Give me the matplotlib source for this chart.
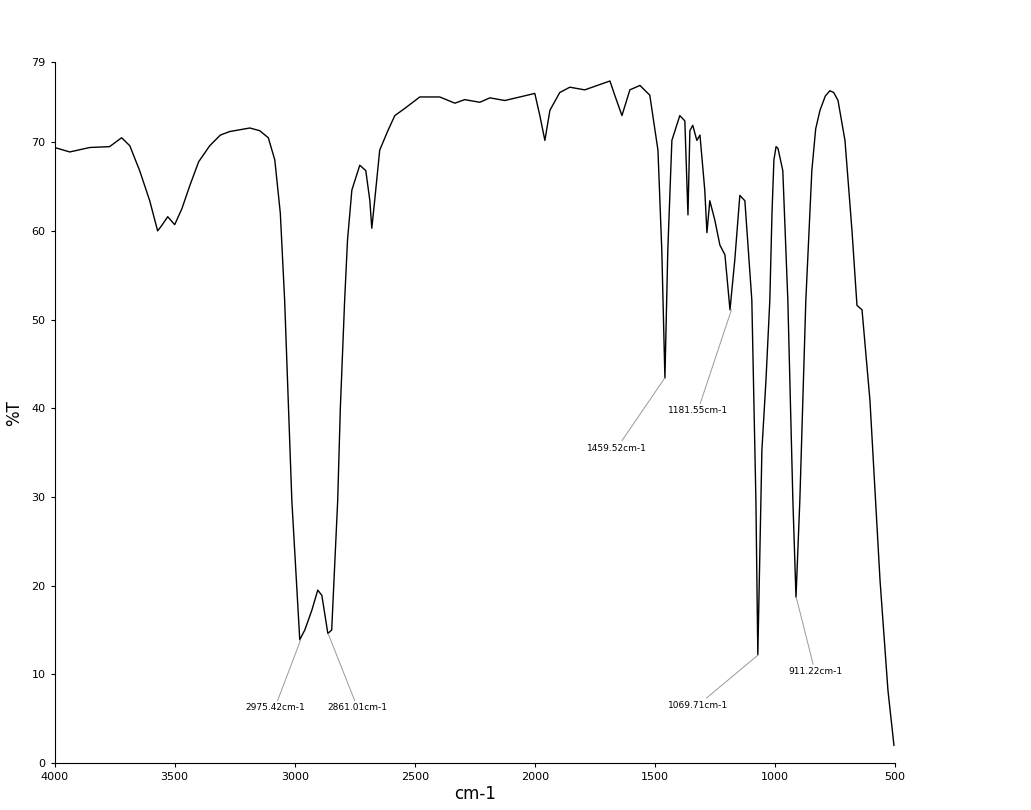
import matplotlib
matplotlib.use("Agg")
import matplotlib.pyplot as plt

# IR spectrum, traced by eye
wavenumber = [4000, 3937, 3854, 3771, 3721, 3687, 3646, 3604, 3571, 3554, 3529, 3500, 3470, 3437, 3400,
              3354, 3310, 3271, 3187, 3146, 3110, 3083, 3060, 3042, 3012, 2979, 2958, 2929, 2904,
              2887, 2862, 2846, 2821, 2810, 2792, 2780, 2762, 2729, 2704, 2687, 2679, 2667, 2646,
              2612, 2583, 2542, 2479, 2396, 2333, 2292, 2229, 2187, 2125, 2062, 2000, 1979, 1958,
              1937, 1896, 1854, 1792, 1729, 1687, 1667, 1637, 1604, 1562, 1521, 1487, 1471, 1458,
              1446, 1429, 1396, 1375, 1362, 1354, 1342, 1325, 1312, 1292, 1283, 1271, 1250, 1229,
              1208, 1187, 1167, 1146, 1125, 1096, 1079, 1071, 1054, 1037, 1021, 1012, 1004, 995, 987,
              967, 946, 925, 912, 896, 871, 846, 830, 812, 790, 771, 755, 737, 708, 679, 658, 637,
              604, 562, 529, 504]
transmittance = [69.4, 68.9, 69.4, 69.5, 70.5, 69.6, 66.8, 63.4, 60.0, 60.6, 61.6, 60.7, 62.5, 65.1, 67.8,
                 69.6, 70.8, 71.2, 71.6, 71.3, 70.5, 68.0, 62.0, 52.2, 29.6, 13.9, 15.0, 17.2, 19.5,
                 18.9, 14.6, 15.0, 29.6, 40.0, 52.2, 59.0, 64.6, 67.4, 66.8, 63.4, 60.3, 63.4, 69.1,
                 71.3, 73.0, 73.8, 75.1, 75.1, 74.4, 74.8, 74.5, 75.0, 74.7, 75.1, 75.5, 73.0, 70.2,
                 73.6, 75.6, 76.2, 75.9, 76.5, 76.9, 75.3, 73.0, 75.9, 76.4, 75.3, 69.1, 57.8, 43.4,
                 57.8, 70.2, 73.0, 72.4, 61.8, 71.3, 71.9, 70.2, 70.8, 64.6, 59.8, 63.4, 61.2, 58.4,
                 57.3, 51.1, 56.7, 64.0, 63.4, 52.2, 29.6, 12.2, 35.3, 43.2, 52.2, 62.0, 68.0, 69.5, 69.3,
                 66.8, 52.2, 29.6, 18.7, 29.6, 52.2, 66.8, 71.5, 73.6, 75.2, 75.8, 75.6, 74.7, 70.2, 60.1,
                 51.6, 51.1, 40.9, 20.6, 8.2, 2.0]

peak_labels = ["2975.42cm-1", "2861.01cm-1", "1459.52cm-1", "1181.55cm-1", "1069.71cm-1", "911.22cm-1"]
peak_x = [2975, 2861, 1459, 1181, 1069, 911]
peak_y = [13.9, 14.6, 43.4, 51.1, 12.2, 18.7]
label_x = [3083, 2738, 1658, 1321, 1321, 833]
label_y = [5.7, 5.7, 35.0, 39.2, 6.0, 9.8]

fig = plt.figure(figsize=(10.31, 8.1), dpi=100)
ax = fig.add_axes([0.053, 0.058, 0.815, 0.865])
ax.plot(wavenumber, transmittance, color="black", lw=1.0)

for lab, px, py, lx, ly in zip(peak_labels, peak_x, peak_y, label_x, label_y):
    ax.annotate(lab, xy=(px, py), xytext=(lx, ly), fontsize=6.5, ha="center", va="bottom",
                arrowprops=dict(arrowstyle="-", color="#999999", lw=0.7, shrinkA=0, shrinkB=0))

ax.set_xlim(4000, 500)
ax.set_ylim(0, 79)
ax.set_xticks([4000, 3500, 3000, 2500, 2000, 1500, 1000, 500])
ax.set_yticks([0, 10, 20, 30, 40, 50, 60, 70, 79])
ax.tick_params(labelsize=8, length=3)
ax.spines["top"].set_visible(False)
ax.spines["right"].set_visible(False)
ax.set_xlabel("cm-1", fontsize=12, labelpad=2)
ax.set_ylabel("%T", fontsize=12, labelpad=6)

fig.savefig("out.png", dpi=100)
